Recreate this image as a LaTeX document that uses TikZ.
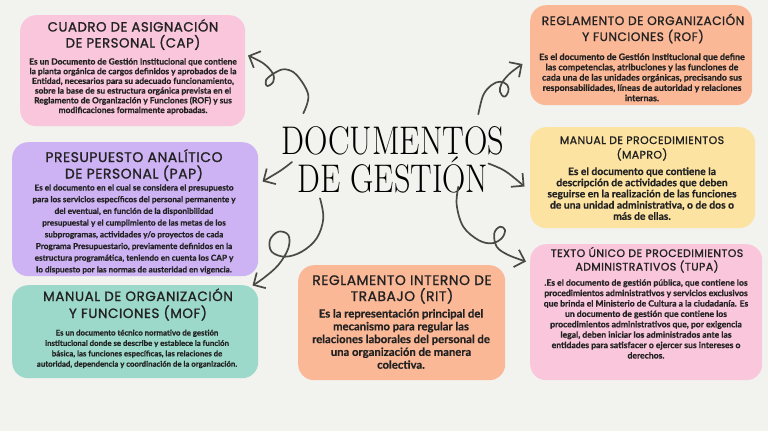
\documentclass[tikz,border=0pt]{standalone}
\usepackage{fontspec}
\usetikzlibrary{arrows.meta}
\newfontfamily\headfont{Poppins}[LetterSpace=4, FakeBold=1.2]
\newfontfamily\bodyfont{Lato}[BoldFeatures={FakeBold=0.6}]
\definecolor{bgc}{HTML}{F2F2EF}
\definecolor{pinkc}{HTML}{F9C6DC}
\definecolor{lavc}{HTML}{CDB3F3}
\definecolor{tealc}{HTML}{9DD9CA}
\definecolor{salmc}{HTML}{FBB897}
\definecolor{yellc}{HTML}{FCE3A2}
\definecolor{arrc}{HTML}{4A4A44}
\definecolor{txtc}{HTML}{222222}
\newcommand\mylines[1]{\vtop{\lineskiplimit=-20pt\halign{\hfil##\hfil\cr#1\crcr}}}
\tikzset{
  box/.style={rounded corners=16pt, draw=none, inner sep=0pt, anchor=north west},
  txt/.style={anchor=base, inner sep=0pt, text=txtc},
  arr/.style={draw=arrc, line width=1.7pt, line cap=round, line join=round,
              -{Straight Barb[length=9pt,width=18pt]}}
}
\begin{document}
\begin{tikzpicture}[x=1pt,y=-1pt]
\fill[bgc] (0,0) rectangle (768,431);
\useasboundingbox (0,0) rectangle (768,431);

% boxes
\node[box, fill=pinkc, minimum width=225pt, minimum height=111pt] (cap) at (20,15) {};
\node[box, fill=lavc, minimum width=246pt, minimum height=134pt] (pap) at (12,142) {};
\node[box, fill=tealc, minimum width=246pt, minimum height=93pt] (mof) at (12,285) {};
\node[box, fill=salmc, minimum width=207pt, minimum height=115pt] (rit) at (298,265) {};
\node[box, fill=salmc, minimum width=222pt, minimum height=100pt] (rof) at (530,5) {};
\node[box, fill=yellc, minimum width=225pt, minimum height=101pt] (mapro) at (530,127) {};
\node[box, fill=pinkc, minimum width=232pt, minimum height=136pt] (tupa) at (530,244) {};

% CAP
\node[txt, font=\headfont\fontsize{13.3}{16}\selectfont] (caph) at (133,31.5)
  {\mylines{CUADRO DE ASIGNACIÓN\cr DE PERSONAL (CAP)}};
\node[txt, font=\bodyfont\bfseries\fontsize{8.4}{9.7}\selectfont] (capb) at (133,64.5)
  {\mylines{Es un Documento de Gestión Institucional que contiene\cr
  la planta orgánica de cargos definidos y aprobados de la\cr
  Entidad, necesarios para su adecuado funcionamiento,\cr
  sobre la base de su estructura orgánica prevista en el\cr
  Reglamento de Organización y Funciones (ROF) y sus\cr
  modificaciones formalmente aprobadas.}};

% PAP
\node[txt, font=\headfont\fontsize{13.9}{16.5}\selectfont] (paph) at (134,162)
  {\mylines{PRESUPUESTO ANALÍTICO\cr DE PERSONAL (PAP)}};
\node[txt, font=\bodyfont\bfseries\fontsize{8.2}{11.7}\selectfont] (papb) at (134,190.5)
  {\mylines{Es el documento en el cual se considera el presupuesto\cr
  para los servicios específicos del personal permanente y\cr
  del eventual, en función de la disponibilidad\cr
  presupuestal y el cumplimiento de las metas de los\cr
  subprogramas, actividades y/o proyectos de cada\cr
  Programa Presupuestario, previamente definidos en la\cr
  estructura programática, teniendo en cuenta los CAP y\cr
  lo dispuesto por las normas de austeridad en vigencia.}};

% MOF
\node[txt, font=\headfont\fontsize{13.5}{17}\selectfont] (mofh) at (138,301)
  {\mylines{MANUAL DE ORGANIZACIÓN\cr Y FUNCIONES (MOF)}};
\node[txt, font=\bodyfont\bfseries\fontsize{7.8}{10.4}\selectfont] (mofb) at (137,335.5)
  {\mylines{Es un documento técnico normativo de gestión\cr
  institucional donde se describe y establece la función\cr
  básica, las funciones específicas, las relaciones de\cr
  autoridad, dependencia y coordinación de la organización.}};

% RIT
\node[txt, font=\headfont\fontsize{13.8}{16}\selectfont] (rith) at (402,285)
  {\mylines{REGLAMENTO INTERNO DE\cr TRABAJO (RIT)}};
\node[txt, font=\bodyfont\bfseries\fontsize{11.3}{12.8}\selectfont] (ritb) at (401,317.5)
  {\mylines{Es la representación principal del\cr
  mecanismo para regular las\cr
  relaciones laborales del personal de\cr
  una organización de manera\cr
  colectiva.}};

% ROF
\node[txt, font=\headfont\fontsize{12.2}{16}\selectfont] (rofh) at (643,25)
  {\mylines{REGLAMENTO DE ORGANIZACIÓN\cr Y FUNCIONES (ROF)}};
\node[txt, font=\bodyfont\bfseries\fontsize{8.9}{10.3}\selectfont] (rofb) at (642,60)
  {\mylines{Es el documento de Gestión Institucional que define\cr
  las competencias, atribuciones y las funciones de\cr
  cada una de las unidades orgánicas, precisando sus\cr
  responsabilidades, líneas de autoridad y relaciones\cr
  internas.}};

% MAPRO
\node[txt, font=\headfont\fontsize{10.9}{14.5}\selectfont] (mapoh) at (642,144)
  {\mylines{MANUAL DE PROCEDIMIENTOS\cr (MAPRO)}};
\node[txt, font=\bodyfont\bfseries\fontsize{10.3}{11.2}\selectfont] (mapob) at (642,175)
  {\mylines{Es el documento que contiene la\cr
  descripción de actividades que deben\cr
  seguirse en la realización de las funciones\cr
  de una unidad administrativa, o de dos o\cr
  más de ellas.}};

% TUPA
\node[txt, font=\headfont\fontsize{10.9}{13.5}\selectfont] (tupah) at (647,257)
  {\mylines{TEXTO ÚNICO DE PROCEDIMIENTOS\cr ADMINISTRATIVOS (TUPA)}};
\node[txt, font=\bodyfont\bfseries\fontsize{8.6}{10.4}\selectfont] (tupab) at (646,285.7)
  {\mylines{.Es el documento de gestión pública, que contiene los\cr
  procedimientos administrativos y servicios exclusivos\cr
  que brinda el Ministerio de Cultura a la ciudadanía. Es\cr
  un documento de gestión que contiene los\cr
  procedimientos administrativos que, por exigencia\cr
  legal, deben iniciar los administrados ante las\cr
  entidades para satisfacer o ejercer sus intereses o\cr
  derechos.}};

% title
\node[txt, text=black, font=\fontsize{40}{40}\selectfont] (title1) at (393,154)
  {\scalebox{0.81}[1]{DOCUMENTOS}};
\node[txt, text=black, font=\fontsize{40}{40}\selectfont] (title2) at (393,192)
  {\scalebox{0.805}[1]{DE GESTIÓN}};

% arrows
\draw[arr] plot[smooth, tension=0.6] coordinates {(303.3,113.3) (308.3,95) (296.7,75) (285,69.3) (275,72.7) (266,80) (267.3,86) (273.3,81.7) (272.7,73.3) (263.3,63.3) (248,55.5)};
\draw[arr] plot[smooth, tension=0.6] coordinates {(478.3,114.3) (483.3,95) (491.7,85) (500,81.7) (507.3,85) (508.3,91.7) (504.3,96.7) (500,91.7) (501.7,83.3) (510,73.3) (522.5,64)};
\draw[arr] (292,162) .. controls (282,170) .. (262.5,181.5);
\draw[arr] (488.5,163.5) .. controls (505,170) .. (524.5,186.5);
\draw[arr] plot[smooth, tension=0.6] coordinates {(320,198.3) (323.3,218.3) (316.7,238.3) (301.7,251.7) (285,256.7) (271.7,251.7) (270,240) (278.3,231.7) (288.3,235) (288.3,248.3) (278.3,265) (263.3,278.3) (252.5,285.5)};
\draw[arr] plot[smooth, tension=0.6] coordinates {(458.3,186.7) (456.7,205) (463.3,226.7) (478.3,240) (491.7,243.3) (501.7,238.3) (505,230) (500,226.7) (494.3,233.3) (496.7,246.7) (508.3,255) (526,261.5)};
\end{tikzpicture}
\end{document}
